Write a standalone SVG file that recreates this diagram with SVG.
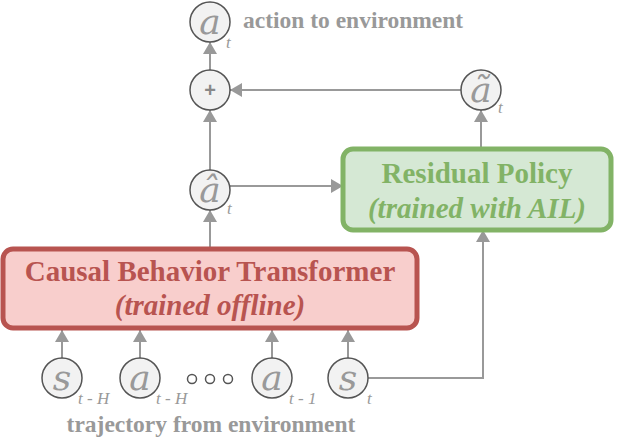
<svg xmlns="http://www.w3.org/2000/svg" width="622" height="438" viewBox="0 0 622 438">
<defs>
<marker id="ah" viewBox="0 0 12 14" refX="12" refY="7" markerWidth="12" markerHeight="14" markerUnits="userSpaceOnUse" orient="auto"><path d="M0,0 L12,7 L0,14 Z" fill="#999"/></marker>
</defs>
<style>
.n{fill:#f2f2f2;stroke:#555;stroke-width:1.5}
.v{font-family:"DejaVu Serif",serif;font-style:italic;font-size:36px;fill:#999;text-anchor:middle}
.sub{font-family:"Liberation Serif",serif;font-style:italic;font-size:17px;fill:#999}
.c{stroke:#999;stroke-width:2;fill:none}
.lbl{font-family:"Liberation Serif",serif;font-weight:bold;font-size:23.5px;fill:#999}
.t{font-family:"Liberation Serif",serif;font-weight:bold;font-size:29px;text-anchor:middle}
</style>
<rect width="622" height="438" fill="#fff"/>
<g id="connectors">
<path class="c" d="M210,70 L210,42" marker-end="url(#ah)"/>
<path class="c" d="M461,90 L230,90" marker-end="url(#ah)"/>
<path class="c" d="M210,170 L210,110" marker-end="url(#ah)"/>
<path class="c" d="M230,186 L343,186" marker-end="url(#ah)"/>
<path class="c" d="M481,148 L481,110" marker-end="url(#ah)"/>
<path class="c" d="M210,248 L210,210" marker-end="url(#ah)"/>
<path class="c" d="M62,358 L62,330" marker-end="url(#ah)"/>
<path class="c" d="M140,358 L140,330" marker-end="url(#ah)"/>
<path class="c" d="M272,358 L272,330" marker-end="url(#ah)"/>
<path class="c" d="M348,358 L348,330" marker-end="url(#ah)"/>
<path class="c" d="M368,378 L483,378 L483,230" marker-end="url(#ah)"/>
</g>
<g id="a_t"><circle class="n" cx="210" cy="22" r="20"/><text class="v" x="210" y="34">a</text><text class="sub" x="226" y="48">t</text></g>
<text class="lbl" x="243" y="28">action to environment</text>
<g id="plus"><circle class="n" cx="210" cy="90" r="20"/><text x="210" y="97" font-family="Liberation Sans,sans-serif" font-weight="bold" font-size="20" fill="#888" text-anchor="middle">+</text></g>
<g id="a_tilde"><circle class="n" cx="481" cy="90" r="20"/><text class="v" x="481" y="102">ã</text><text class="sub" x="498" y="113">t</text></g>
<g id="a_hat"><circle class="n" cx="210" cy="190" r="20"/><text class="v" x="210" y="202">â</text><text class="sub" x="227" y="214">t</text></g>
<g id="residual"><rect x="343" y="149" width="268" height="81" rx="10" fill="#d5e8d4" stroke="#82b366" stroke-width="5"/>
<text class="t" x="477" y="183" fill="#82b366">Residual Policy</text>
<text class="t" x="477" y="218" fill="#82b366" font-style="italic">(trained with AIL)</text></g>
<g id="cbt"><rect x="3" y="249" width="414" height="79" rx="10" fill="#f8cecc" stroke="#b85450" stroke-width="5"/>
<text class="t" x="210" y="281" fill="#b85450">Causal Behavior Transformer</text>
<text class="t" x="210" y="315" fill="#b85450" font-style="italic">(trained offline)</text></g>
<g id="s_tH"><circle class="n" cx="62" cy="378" r="20"/><text class="v" x="62" y="390">s</text><text class="sub" x="78" y="404">t - H</text></g>
<g id="a_tH"><circle class="n" cx="140" cy="378" r="20"/><text class="v" x="140" y="390">a</text><text class="sub" x="156" y="404">t - H</text></g>
<g id="dots" fill="none" stroke="#555" stroke-width="1.5"><circle cx="192" cy="379" r="4.5"/><circle cx="210" cy="379" r="4.5"/><circle cx="228" cy="379" r="4.5"/></g>
<g id="a_t1"><circle class="n" cx="272" cy="378" r="20"/><text class="v" x="272" y="390">a</text><text class="sub" x="289" y="404">t - 1</text></g>
<g id="s_t"><circle class="n" cx="348" cy="378" r="20"/><text class="v" x="348" y="390">s</text><text class="sub" x="367" y="404">t</text></g>
<text class="lbl" x="211" y="432" text-anchor="middle">trajectory from environment</text>
</svg>
